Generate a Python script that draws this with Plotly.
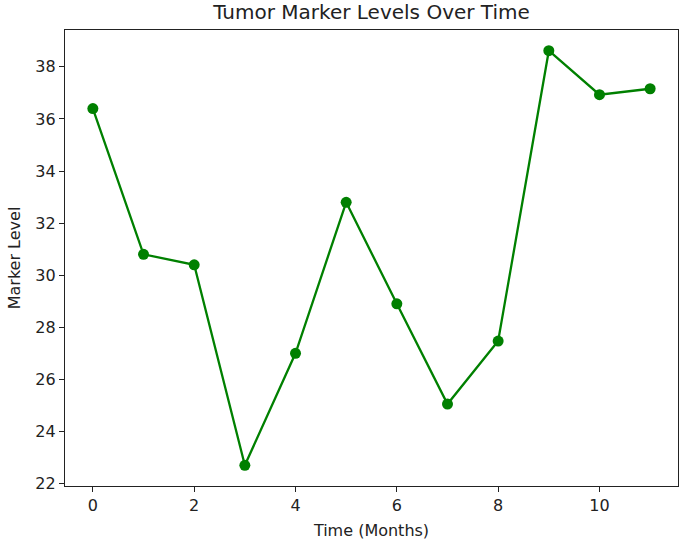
import plotly.graph_objects as go

months = [0, 1, 2, 3, 4, 5, 6, 7, 8, 9, 10, 11]
marker_levels = [36.4, 30.8, 30.4, 22.7, 27.0, 32.8, 28.9, 25.05, 27.47, 38.62, 36.93, 37.16]
x_ticks = [0, 2, 4, 6, 8, 10]
y_ticks = [22, 24, 26, 28, 30, 32, 34, 36, 38]

FONT = "DejaVu Sans"
W, H = 685, 544
fig = go.Figure()
fig.add_trace(go.Scatter(
    x=months, y=marker_levels, mode="lines+markers",
    line=dict(color="#008000", width=2.3),
    marker=dict(color="#008000", size=11),
    showlegend=False,
))

ymin, ymax = min(marker_levels), max(marker_levels)
ypad = (ymax - ymin) * 0.05
xpad = (max(months) - min(months)) * 0.05

axis_common = dict(
    showline=True, linecolor="#222", linewidth=1.2, mirror=True,
    ticks="outside", ticklen=5, tickwidth=1.2, tickcolor="#222",
    showgrid=False, zeroline=False, automargin=False,
    tickfont=dict(family=FONT, size=16, color="#222"),
)
fig.update_layout(
    width=W, height=H,
    margin=dict(l=65, r=7, t=30, b=58),
    paper_bgcolor="white", plot_bgcolor="white",
    title=dict(text="Tumor Marker Levels Over Time", x=(65 + W - 7) / 2 / W, xanchor="center",
               y=1 - 12 / H, yanchor="middle", automargin=False,
               font=dict(family=FONT, size=20, color="#222")),
    xaxis=dict(range=[min(months) - xpad, max(months) + xpad], tickvals=x_ticks,
               title=dict(text="Time (Months)", font=dict(family=FONT, size=16, color="#222"), standoff=10),
               **axis_common),
    yaxis=dict(range=[ymin - ypad, ymax + ypad], tickvals=y_ticks,
               title=dict(text="Marker Level", font=dict(family=FONT, size=16, color="#222"), standoff=10),
               **axis_common),
)
fig.write_html("out.html", config={"displayModeBar": False},
               post_script="document.body.style.margin='0';")
